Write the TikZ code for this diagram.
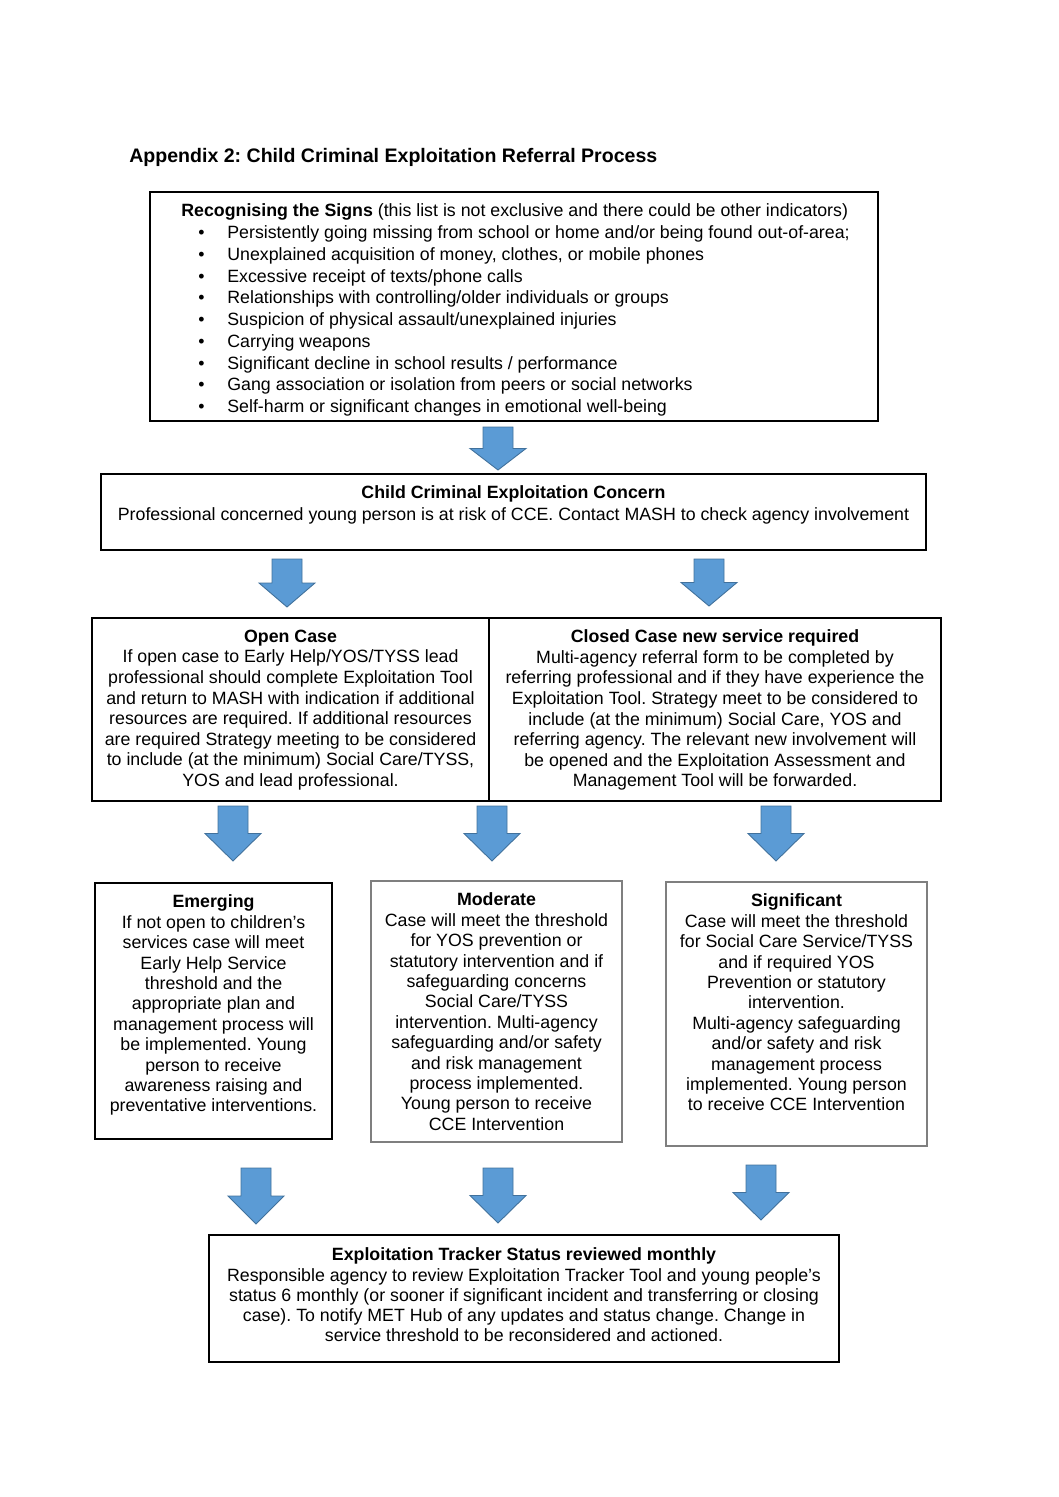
\documentclass[tikz,border=0pt]{standalone}
\usepackage{fontspec}
\setmainfont{Liberation Sans}
\usetikzlibrary{fit}
\definecolor{arrfill}{HTML}{5B9BD5}
\definecolor{arrdraw}{HTML}{41719C}
\definecolor{gbox}{HTML}{7F7F7F}
\tikzset{
  blackbox/.style={draw=black, line width=1pt, inner sep=0pt},
  greybox/.style={draw=gbox, line width=0.8pt, inner sep=0pt},
  txt/.style={inner sep=0pt, align=center, font=\fontsize{10}{11.5}\selectfont},
  sigtxt/.style={inner sep=0pt, align=left, font=\fontsize{10}{12.24}\selectfont},
  blockarrow/.style={fill=arrfill, draw=arrdraw, line width=0.5pt, line join=miter},
}
\newcommand{\blkarrow}[3]{%
  \pgfmathsetmacro{\amid}{(#2+#3)/2}%
  \filldraw[blockarrow] (#1-15,#2) -- (#1+15,#2) -- (#1+15,\amid) -- (#1+28,\amid)
     -- (#1,#3) -- (#1-28,\amid) -- (#1-15,\amid) -- cycle;}
\newcommand{\bul}[1]{\hspace*{9.6pt}\makebox[16.3pt][l]{\textbullet}#1}
\frenchspacing
\begin{document}
\frenchspacing
\begin{tikzpicture}[x=0.5627pt,y=-0.5627pt]
\useasboundingbox (0,0) rectangle (1058,1497);

% title
\node[anchor=base west, inner sep=0pt, font=\fontsize{11}{13}\selectfont\bfseries] (title) at (129,163)
  {Appendix 2: Child Criminal Exploitation Referral Process};

% boxes
\node[blackbox, fit={(150,192)(878,421)}] (signs) {};
\node[blackbox, fit={(101,474)(926,550)}] (concern) {};
\node[blackbox, fit={(92,618)(489,801)}] (open) {};
\node[blackbox, fit={(489,618)(941,801)}] (closed) {};
\node[blackbox, fit={(95,883)(332,1139)}] (emerging) {};
\node[greybox, fit={(371,881)(622,1142)}] (moderate) {};
\node[greybox, fit={(666,882)(927,1146)}] (significant) {};
\node[blackbox, fit={(209,1235)(839,1362)}] (tracker) {};

% texts
\node[sigtxt, anchor=north west] (signstxt) at (181,203.6) {%
\textbf{Recognising the Signs} (this list is not exclusive and there could be other indicators)\\
\bul{Persistently going missing from school or home and/or being found out-of-area;}\\
\bul{Unexplained acquisition of money, clothes, or mobile phones}\\
\bul{Excessive receipt of texts/phone calls}\\
\bul{Relationships with controlling/older individuals or groups}\\
\bul{Suspicion of physical assault/unexplained injuries}\\
\bul{Carrying weapons}\\
\bul{Significant decline in school results / performance}\\
\bul{Gang association or isolation from peers or social networks}\\
\bul{Self-harm or significant changes in emotional well-being}};

\node[txt, anchor=north, font=\fontsize{10}{12.0}\selectfont] (concerntxt) at (513.5,485.6) {%
\textbf{Child Criminal Exploitation Concern}\\
Professional concerned young person is at risk of CCE. Contact MASH to check agency involvement};

\node[txt, anchor=north, font=\fontsize{10}{11.57}\selectfont] (opentxt) at (290.5,629.6) {%
\textbf{Open Case}\\
If open case to Early Help/YOS/TYSS lead\\
professional should complete Exploitation Tool\\
and return to MASH with indication if additional\\
resources are required. If additional resources\\
are required Strategy meeting to be considered\\
to include (at the minimum) Social Care/TYSS,\\
YOS and lead professional.};

\node[txt, anchor=north, font=\fontsize{10}{11.57}\selectfont] (closedtxt) at (715,629.6) {%
\textbf{Closed Case new service required}\\
Multi-agency referral form to be completed by\\
referring professional and if they have experience the\\
Exploitation Tool. Strategy meet to be considered to\\
include (at the minimum) Social Care, YOS and\\
referring agency. The relevant new involvement will\\
be opened and the Exploitation Assessment and\\
Management Tool will be forwarded.};

\node[txt, anchor=north, font=\fontsize{10}{11.48}\selectfont] (emergingtxt) at (213.5,894.6) {%
\textbf{Emerging}\\
If not open to children’s\\
services case will meet\\
Early Help Service\\
threshold and the\\
appropriate plan and\\
management process will\\
be implemented. Young\\
person to receive\\
awareness raising and\\
preventative interventions.};

\node[txt, anchor=north, font=\fontsize{10}{11.48}\selectfont] (moderatetxt) at (496.5,892.6) {%
\textbf{Moderate}\\
Case will meet the threshold\\
for YOS prevention or\\
statutory intervention and if\\
safeguarding concerns\\
Social Care/TYSS\\
intervention. Multi-agency\\
safeguarding and/or safety\\
and risk management\\
process implemented.\\
Young person to receive\\
CCE Intervention};

\node[txt, anchor=north, font=\fontsize{10}{11.48}\selectfont] (significanttxt) at (796.5,893.6) {%
\textbf{Significant}\\
Case will meet the threshold\\
for Social Care Service/TYSS\\
and if required YOS\\
Prevention or statutory\\
intervention.\\
Multi-agency safeguarding\\
and/or safety and risk\\
management process\\
implemented. Young person\\
to receive CCE Intervention};

\node[txt, anchor=north, font=\fontsize{10}{11.4}\selectfont] (trackertxt) at (524,1247.6) {%
\textbf{Exploitation Tracker Status reviewed monthly}\\
Responsible agency to review Exploitation Tracker Tool and young people’s\\
status 6 monthly (or sooner if significant incident and transferring or closing\\
case). To notify MET Hub of any updates and status change. Change in\\
service threshold to be reconsidered and actioned.};

% block arrows
\blkarrow{498}{427}{470}
\blkarrow{287}{559}{607}
\blkarrow{709}{559}{606}
\blkarrow{233}{806}{861}
\blkarrow{492}{806}{861}
\blkarrow{776}{806}{861}
\blkarrow{256}{1168}{1224}
\blkarrow{498}{1168}{1223}
\blkarrow{761}{1165}{1220}
\end{tikzpicture}
\end{document}
